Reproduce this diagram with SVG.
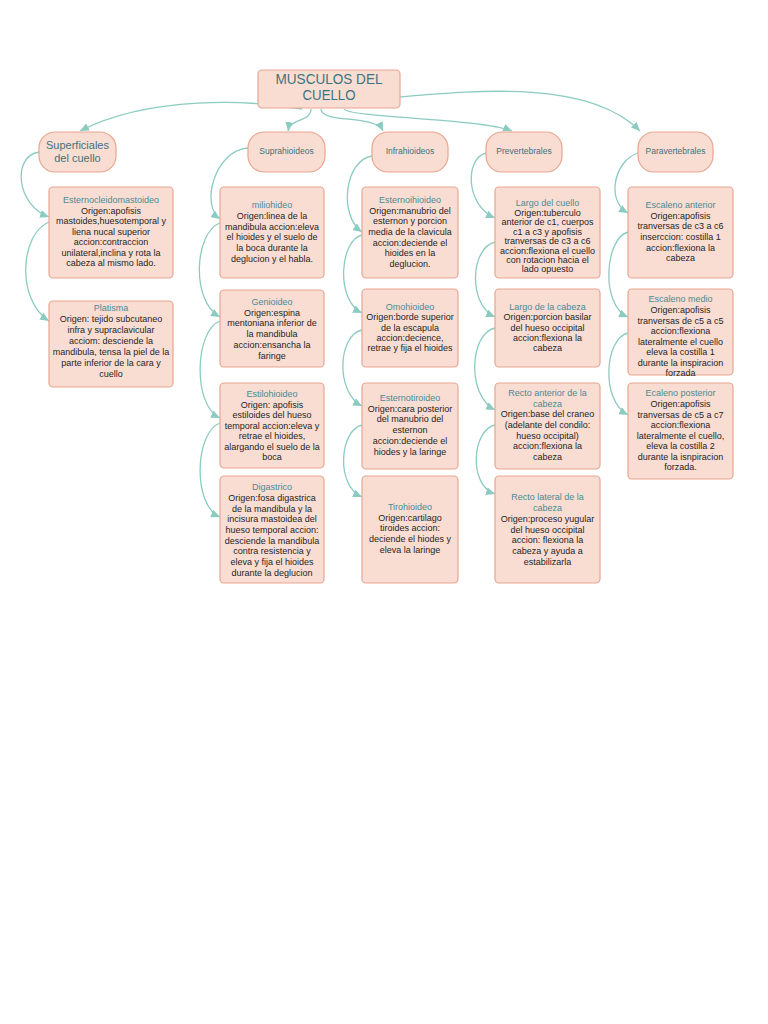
<svg xmlns="http://www.w3.org/2000/svg" width="768" height="1024" viewBox="0 0 768 1024">
<style>
.box{fill:#f9ddd3;stroke:#e8a690;stroke-width:1.2}
.tx{font-family:"Liberation Sans",Arial,sans-serif;font-size:9px;text-anchor:middle;fill:#1e1e1e}
.h{fill:#4a8a92}
.ttl{font-family:"Liberation Sans",Arial,sans-serif;text-anchor:middle;fill:#3d727b}
.conn{fill:none;stroke:#8ccbc2;stroke-width:1.3;marker-end:url(#arr)}
</style>
<defs>
<marker id="arr" markerUnits="userSpaceOnUse" markerWidth="9" markerHeight="8" refX="9" refY="4" orient="auto" viewBox="0 0 9 8">
<path d="M0,0 L9,4 L0,8 z" fill="#8ccbc2"/>
</marker>
</defs>
<rect width="768" height="1024" fill="#ffffff"/>

<g id="connectors">
<path class="conn" d="M302,109 C250,100 150,95 80,131"/>
<path class="conn" d="M311,109 C311,122 290,118 288,131"/>
<path class="conn" d="M321,109 C322,124 375,114 383,131"/>
<path class="conn" d="M344,109 C350,118 480,118 512,131"/>
<path class="conn" d="M400,97 C480,90 590,80 640,131"/>
<path class="conn" d="M39,152 C12,156 16,205 49,217"/>
<path class="conn" d="M49,222 C20,234 16,300 49,321"/>
<path class="conn" d="M248,148 C215,150 200,205 220,219"/>
<path class="conn" d="M220,223 C195,232 190,300 220,317"/>
<path class="conn" d="M220,321 C195,330 192,405 220,418"/>
<path class="conn" d="M220,423 C195,432 192,505 220,517"/>
<path class="conn" d="M372,156 C345,160 338,215 362,232"/>
<path class="conn" d="M362,235 C340,240 335,300 362,313"/>
<path class="conn" d="M362,330 C338,335 335,392 362,406"/>
<path class="conn" d="M362,425 C340,430 335,485 362,497"/>
<path class="conn" d="M486,153 C465,158 465,205 495,218"/>
<path class="conn" d="M495,242 C470,248 468,305 495,317"/>
<path class="conn" d="M495,328 C470,333 466,395 495,410"/>
<path class="conn" d="M495,425 C472,430 468,485 495,494"/>
<path class="conn" d="M638,153 C615,160 605,200 628,213"/>
<path class="conn" d="M628,232 C605,238 600,305 628,317"/>
<path class="conn" d="M628,333 C605,338 600,400 628,415"/>
</g>

<g id="n-title">
<rect class="box" x="258" y="70" width="142" height="38" rx="4"/>
<text class="ttl" font-size="14" x="329" y="84" textLength="107" lengthAdjust="spacingAndGlyphs">MUSCULOS DEL</text>
<text class="ttl" font-size="14" x="329" y="100" textLength="53" lengthAdjust="spacingAndGlyphs">CUELLO</text>
</g>

<g id="n-superficiales">
<rect class="box" x="39" y="132" width="77" height="40" rx="16"/>
<text class="ttl" font-size="11" x="77.5" y="149">Superficiales</text>
<text class="ttl" font-size="11" x="77.5" y="161.5">del cuello</text>
</g>
<g id="n-suprahioideos">
<rect class="box" x="248" y="132" width="77" height="40" rx="16"/>
<text class="ttl" font-size="8.5" x="286.5" y="154">Suprahioideos</text>
</g>
<g id="n-infrahioideos">
<rect class="box" x="372" y="132" width="76" height="40" rx="16"/>
<text class="ttl" font-size="8.5" x="410" y="154">Infrahioideos</text>
</g>
<g id="n-prevertebrales">
<rect class="box" x="486" y="132" width="76" height="40" rx="16"/>
<text class="ttl" font-size="8.5" x="524" y="154">Prevertebrales</text>
</g>
<g id="n-paravertebrales">
<rect class="box" x="638" y="132" width="75" height="40" rx="16"/>
<text class="ttl" font-size="8.5" x="675.5" y="154">Paravertebrales</text>
</g>

<g id="n-esternocleidomastoideo">
<rect class="box" x="49" y="187" width="124" height="91" rx="4"/>
<text class="tx"><tspan class="h" x="111" y="203">Esternocleidomastoideo</tspan><tspan x="111" y="213.6">Origen:apofisis</tspan><tspan x="111" y="224.1">mastoides,huesotemporal y</tspan><tspan x="111" y="234.7">liena nucal superior</tspan><tspan x="111" y="245.2">accion:contraccion</tspan><tspan x="111" y="255.8">unilateral,inclina y rota la</tspan><tspan x="111" y="266.3">cabeza al mismo lado.</tspan></text>
</g>
<g id="n-platisma">
<rect class="box" x="49" y="301" width="124" height="86" rx="4"/>
<text class="tx"><tspan class="h" x="111" y="310.7">Platisma</tspan><tspan x="111" y="321.8">Origen: tejido subcutaneo</tspan><tspan x="111" y="332.9">infra y supraclavicular</tspan><tspan x="111" y="344">acciom: desciende la</tspan><tspan x="111" y="355.1">mandibula, tensa la piel de la</tspan><tspan x="111" y="366.2">parte inferior de la cara y</tspan><tspan x="111" y="377.3">cuello</tspan></text>
</g>

<g id="n-miliohideo">
<rect class="box" x="220" y="187" width="104" height="91" rx="4"/>
<text class="tx"><tspan class="h" x="272" y="208">miliohideo</tspan><tspan x="272" y="218.8">Origen:linea de la</tspan><tspan x="272" y="229.6">mandibula accion:eleva</tspan><tspan x="272" y="240.4">el hioides y el suelo de</tspan><tspan x="272" y="251.2">la boca durante la</tspan><tspan x="272" y="262">deglucion y el habla.</tspan></text>
</g>
<g id="n-genioideo">
<rect class="box" x="220" y="290" width="104" height="77" rx="4"/>
<text class="tx"><tspan class="h" x="272" y="304.7">Genioideo</tspan><tspan x="272" y="315.5">Origen:espina</tspan><tspan x="272" y="326.3">mentoniana inferior de</tspan><tspan x="272" y="337.1">la mandibula</tspan><tspan x="272" y="347.9">accion:ensancha la</tspan><tspan x="272" y="358.7">faringe</tspan></text>
</g>
<g id="n-estilohioideo">
<rect class="box" x="220" y="383" width="104" height="85" rx="4"/>
<text class="tx"><tspan class="h" x="272" y="397">Estilohioideo</tspan><tspan x="272" y="407.6">Origen: apofisis</tspan><tspan x="272" y="418.1">estiloides del hueso</tspan><tspan x="272" y="428.7">temporal accion:eleva y</tspan><tspan x="272" y="439.2">retrae el hioides,</tspan><tspan x="272" y="449.8">alargando el suelo de la</tspan><tspan x="272" y="460.3">boca</tspan></text>
</g>
<g id="n-digastrico">
<rect class="box" x="220" y="476" width="104" height="107" rx="4"/>
<text class="tx"><tspan class="h" x="272" y="490.3">Digastrico</tspan><tspan x="272" y="501">Origen:fosa digastrica</tspan><tspan x="272" y="511.7">de la mandibula y la</tspan><tspan x="272" y="522.3">incisura mastoidea del</tspan><tspan x="272" y="533">hueso temporal accion:</tspan><tspan x="272" y="543.7">desciende la mandibula</tspan><tspan x="272" y="554.3">contra resistencia y</tspan><tspan x="272" y="565">eleva y fija el hioides</tspan><tspan x="272" y="575.7">durante la deglucion</tspan></text>
</g>

<g id="n-esternohioideo">
<rect class="box" x="362" y="187" width="96" height="91" rx="4"/>
<text class="tx"><tspan class="h" x="410" y="203">Esternoihioideo</tspan><tspan x="410" y="213.7">Origen:manubrio del</tspan><tspan x="410" y="224.3">esternon y porcion</tspan><tspan x="410" y="235">media de la clavicula</tspan><tspan x="410" y="245.7">accion:deciende el</tspan><tspan x="410" y="256.3">hioides en la</tspan><tspan x="410" y="267">deglucion.</tspan></text>
</g>
<g id="n-omohioideo">
<rect class="box" x="362" y="289" width="96" height="78" rx="4"/>
<text class="tx"><tspan class="h" x="410" y="309.7">Omohioideo</tspan><tspan x="410" y="320.1">Origen:borde superior</tspan><tspan x="410" y="330.5">de la escapula</tspan><tspan x="410" y="340.9">accion:decience,</tspan><tspan x="410" y="351.3">retrae y fija el hioides</tspan></text>
</g>
<g id="n-esternotiroideo">
<rect class="box" x="362" y="383" width="96" height="86" rx="4"/>
<text class="tx"><tspan class="h" x="410" y="400.7">Esternotiroideo</tspan><tspan x="410" y="411.5">Origen:cara posterior</tspan><tspan x="410" y="422.3">del manubrio del</tspan><tspan x="410" y="433.1">esternon</tspan><tspan x="410" y="443.9">accion:deciende el</tspan><tspan x="410" y="454.7">hiodes y la laringe</tspan></text>
</g>
<g id="n-tirohioideo">
<rect class="box" x="362" y="476" width="96" height="107" rx="4"/>
<text class="tx"><tspan class="h" x="410" y="509.7">Tirohioideo</tspan><tspan x="410" y="520.5">Origen:cartilago</tspan><tspan x="410" y="531.3">tiroides accion:</tspan><tspan x="410" y="542.1">deciende el hiodes y</tspan><tspan x="410" y="552.9">eleva la laringe</tspan></text>
</g>

<g id="n-largo-cuello">
<rect class="box" x="495" y="187" width="105" height="91" rx="4"/>
<text class="tx" font-size="8.5"><tspan class="h" x="547.5" y="206.3">Largo del cuello</tspan><tspan x="547.5" y="215.7">Origen:tuberculo</tspan><tspan x="547.5" y="225.2">anterior de c1, cuerpos</tspan><tspan x="547.5" y="234.6">c1 a c3 y apofisis</tspan><tspan x="547.5" y="244">tranversas de c3 a c6</tspan><tspan x="547.5" y="253.5">accion:flexiona el cuello</tspan><tspan x="547.5" y="262.9">con rotacion hacia el</tspan><tspan x="547.5" y="272.3">lado opuesto</tspan></text>
</g>
<g id="n-largo-cabeza">
<rect class="box" x="495" y="289" width="105" height="78" rx="4"/>
<text class="tx"><tspan class="h" x="547.5" y="309.7">Largo de la cabeza</tspan><tspan x="547.5" y="320.1">Origen:porcion basilar</tspan><tspan x="547.5" y="330.5">del hueso occipital</tspan><tspan x="547.5" y="340.9">accion:flexiona la</tspan><tspan x="547.5" y="351.3">cabeza</tspan></text>
</g>
<g id="n-recto-anterior">
<rect class="box" x="495" y="383" width="105" height="86" rx="4"/>
<text class="tx"><tspan class="h" x="547.5" y="396.3">Recto anterior de la</tspan><tspan class="h" x="547.5" y="406.9">cabeza</tspan><tspan x="547.5" y="417.4">Origen:base del craneo</tspan><tspan x="547.5" y="428">(adelante del condilo:</tspan><tspan x="547.5" y="438.5">hueso occipital)</tspan><tspan x="547.5" y="449.1">accion:flexiona la</tspan><tspan x="547.5" y="459.6">cabeza</tspan></text>
</g>
<g id="n-recto-lateral">
<rect class="box" x="495" y="476" width="105" height="107" rx="4"/>
<text class="tx"><tspan class="h" x="547.5" y="500.3">Recto lateral de la</tspan><tspan class="h" x="547.5" y="511">cabeza</tspan><tspan x="547.5" y="521.8">Origen:proceso yugular</tspan><tspan x="547.5" y="532.5">del hueso occipital</tspan><tspan x="547.5" y="543.2">accion: flexiona la</tspan><tspan x="547.5" y="554">cabeza y ayuda a</tspan><tspan x="547.5" y="564.7">estabilizarla</tspan></text>
</g>

<g id="n-escaleno-anterior">
<rect class="box" x="628" y="187" width="105" height="91" rx="4"/>
<text class="tx"><tspan class="h" x="680.5" y="208">Escaleno anterior</tspan><tspan x="680.5" y="218.7">Origen:apofisis</tspan><tspan x="680.5" y="229.3">tranversas de c3 a c6</tspan><tspan x="680.5" y="240">inserccion: costilla 1</tspan><tspan x="680.5" y="250.7">accion:flexiona la</tspan><tspan x="680.5" y="261.3">cabeza</tspan></text>
</g>
<g id="n-escaleno-medio">
<rect class="box" x="628" y="289" width="105" height="86" rx="4"/>
<text class="tx"><tspan class="h" x="680.5" y="302.3">Escaleno medio</tspan><tspan x="680.5" y="312.9">Origen:apofisis</tspan><tspan x="680.5" y="323.5">tranversas de c5 a c5</tspan><tspan x="680.5" y="334">accion:flexiona</tspan><tspan x="680.5" y="344.6">lateralmente el cuello</tspan><tspan x="680.5" y="355.2">eleva la costilla 1</tspan><tspan x="680.5" y="365.7">durante la inspiracion</tspan><tspan x="680.5" y="376.3">forzada</tspan></text>
</g>
<g id="n-escaleno-posterior">
<rect class="box" x="628" y="383" width="105" height="96" rx="4"/>
<text class="tx"><tspan class="h" x="680.5" y="396.3">Ecaleno posterior</tspan><tspan x="680.5" y="406.9">Origen:apofisis</tspan><tspan x="680.5" y="417.5">tranversas de c5 a c7</tspan><tspan x="680.5" y="428">accion:flexiona</tspan><tspan x="680.5" y="438.6">lateralmente el cuello,</tspan><tspan x="680.5" y="449.2">eleva la costilla 2</tspan><tspan x="680.5" y="459.7">durante la isnpiracion</tspan><tspan x="680.5" y="470.3">forzada.</tspan></text>
</g>
</svg>
